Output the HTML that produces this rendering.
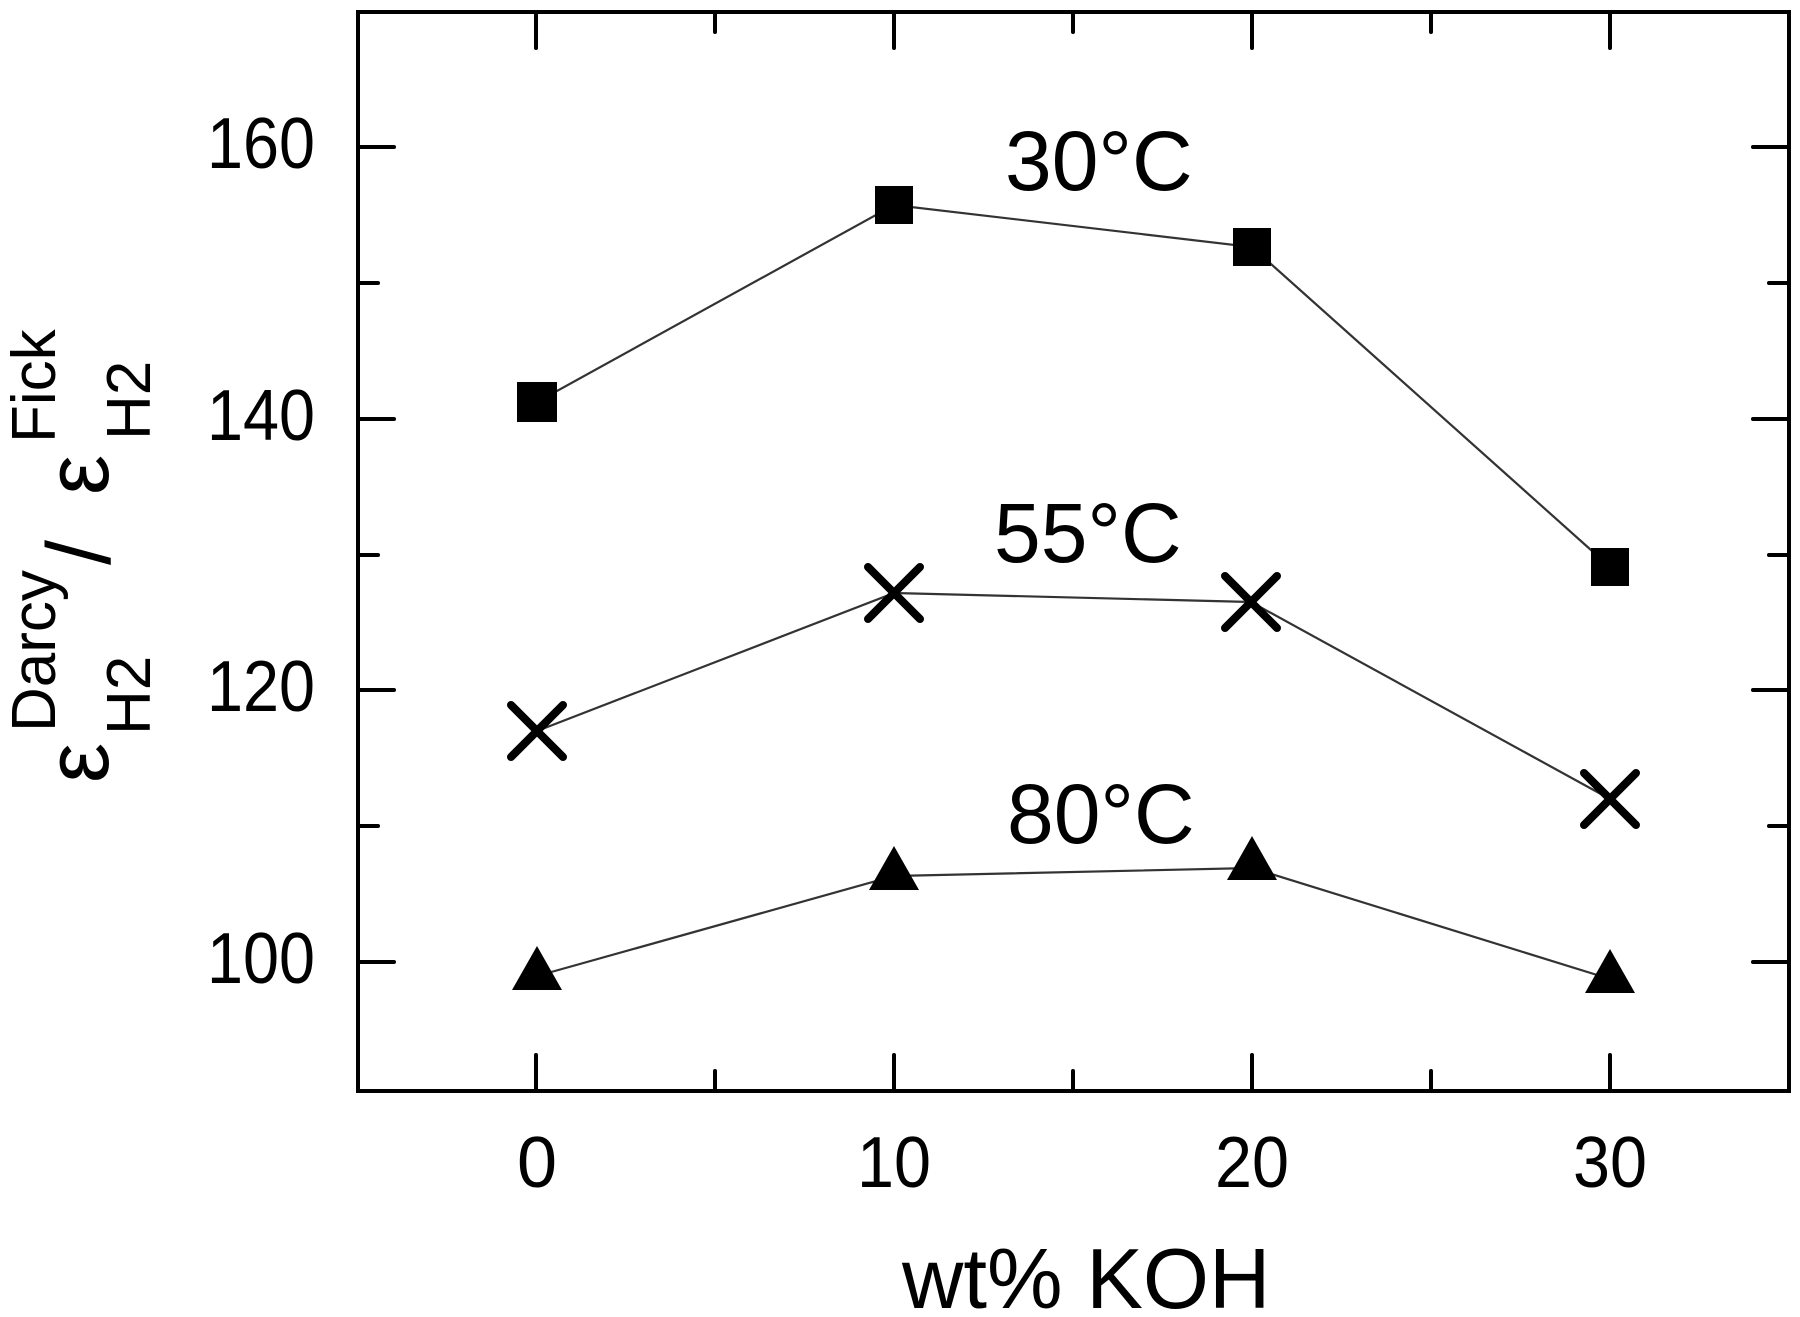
<!DOCTYPE html>
<html><head><meta charset="utf-8"><style>html,body{margin:0;padding:0;background:#fff}svg{display:block}</style></head>
<body>
<svg width="1800" height="1317" viewBox="0 0 1800 1317" xmlns="http://www.w3.org/2000/svg" font-family="Liberation Sans, Arial, sans-serif">
<rect width="1800" height="1317" fill="#fff"/>
<!-- ticks -->
<g stroke="#000" stroke-width="4" stroke-linecap="round">
  <!-- major y -->
  <path d="M358 962h36M358 690h36M358 419h36M358 147h36M1789 962h-36M1789 690h-36M1789 419h-36M1789 147h-36"/>
  <!-- minor y -->
  <path d="M358 826h20M358 555h20M358 283h20M1789 826h-20M1789 555h-20M1789 283h-20"/>
  <!-- major x -->
  <path d="M536 1091v-36M894 1091v-36M1252 1091v-36M1610 1091v-36M536 12v36M894 12v36M1252 12v36M1610 12v36"/>
  <!-- minor x -->
  <path d="M715 1091v-20M1073 1091v-20M1431 1091v-20M715 12v20M1073 12v20M1431 12v20"/>
</g>
<rect x="358" y="12" width="1431" height="1079" fill="none" stroke="#000" stroke-width="4"/>
<!-- lines -->
<g fill="none" stroke="#333" stroke-width="2.2">
  <polyline points="537,402 894,205 1252,247 1610,567"/>
  <polyline points="537,731 894,593 1251,602 1610,799"/>
  <polyline points="537,976 894,876 1252,868 1610,979"/>
</g>
<!-- squares -->
<g fill="#000">
  <rect x="517" y="382" width="40" height="40"/>
  <rect x="875" y="186" width="38" height="38"/>
  <rect x="1233" y="228" width="38" height="38"/>
  <rect x="1591" y="548" width="38" height="38"/>
</g>
<!-- crosses -->
<g stroke="#000" stroke-width="8" stroke-linecap="round">
  <path d="M511 705l52 52M563 705l-52 52"/>
  <path d="M868 567l52 52M920 567l-52 52"/>
  <path d="M1225 576l52 52M1277 576l-52 52"/>
  <path d="M1584 773l52 52M1636 773l-52 52"/>
</g>
<!-- triangles -->
<g fill="#000">
  <polygon points="537,946 562,990 512,990"/>
  <polygon points="894,846 919,890 869,890"/>
  <polygon points="1252,836 1277,880 1227,880"/>
  <polygon points="1610,949 1635,993 1585,993"/>
</g>
<!-- series labels -->
<g font-size="84" fill="#000">
  <text x="1005" y="190">30°C</text>
  <text x="994" y="562">55°C</text>
  <text x="1007" y="843">80°C</text>
</g>
<!-- y tick labels -->
<g font-size="72" fill="#000" text-anchor="end">
  <text x="315" y="168" textLength="108" lengthAdjust="spacingAndGlyphs">160</text>
  <text x="315" y="440" textLength="108" lengthAdjust="spacingAndGlyphs">140</text>
  <text x="315" y="711" textLength="108" lengthAdjust="spacingAndGlyphs">120</text>
  <text x="315" y="983" textLength="108" lengthAdjust="spacingAndGlyphs">100</text>
</g>
<!-- x tick labels -->
<g font-size="72" fill="#000" text-anchor="middle">
  <text x="537" y="1187">0</text>
  <text x="894" y="1187" textLength="74" lengthAdjust="spacingAndGlyphs">10</text>
  <text x="1252" y="1187" textLength="74" lengthAdjust="spacingAndGlyphs">20</text>
  <text x="1610" y="1187" textLength="74" lengthAdjust="spacingAndGlyphs">30</text>
</g>
<text x="902" y="1308" font-size="85" fill="#000">wt% KOH</text>
<!-- y label -->
<g transform="rotate(-90)" fill="#000">
  <text x="-783" y="108" font-size="90">ε</text>
  <text x="-732" y="55" font-size="62">Darcy</text>
  <text x="-735" y="150" font-size="62">H2</text>
  <text x="-565" y="110" font-size="90">/</text>
  <text x="-495" y="108" font-size="90">ε</text>
  <text x="-443" y="55" font-size="62">Fick</text>
  <text x="-440" y="150" font-size="62">H2</text>
</g>
</svg>
</body></html>
